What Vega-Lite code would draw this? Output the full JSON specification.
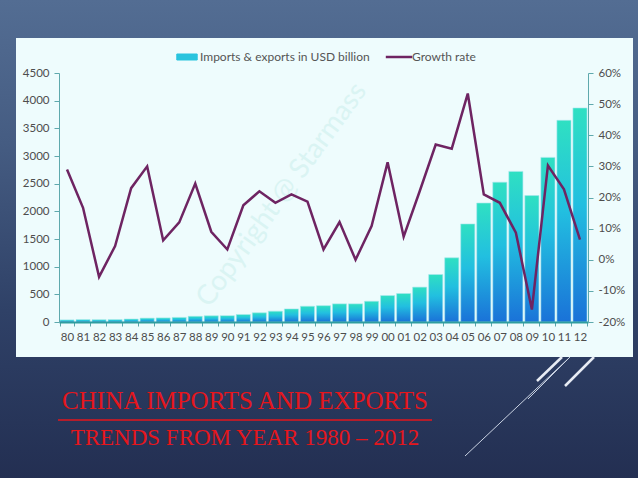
{
  "$schema": "https://vega.github.io/schema/vega-lite/v6.json",
  "width": 529,
  "height": 249,
  "autosize": {"type": "none"},
  "padding": {"left": 59, "top": 73, "right": 50, "bottom": 156},
  "background": "#34476c",
  "config": {"view": {"stroke": null}, "font": "Lato"},
  "title": {
    "text": "CHINA IMPORTS AND EXPORTS",
    "subtitle": "TRENDS FROM YEAR 1980 – 2012",
    "orient": "bottom",
    "anchor": "start",
    "frame": "group",
    "align": "center",
    "dx": 186,
    "offset": -89,
    "font": "Liberation Serif",
    "fontSize": 25,
    "fontWeight": "normal",
    "color": "#e5161c",
    "subtitleFont": "Liberation Serif",
    "subtitleFontSize": 23,
    "subtitleColor": "#e5161c",
    "subtitlePadding": 13
  },
  "datasets": {
    "trade": [
      {"year": "80", "trade": 38, "growth": 29},
      {"year": "81", "trade": 44, "growth": 16.7},
      {"year": "82", "trade": 42, "growth": -5.5},
      {"year": "83", "trade": 44, "growth": 4.4},
      {"year": "84", "trade": 54, "growth": 23},
      {"year": "85", "trade": 70, "growth": 30},
      {"year": "86", "trade": 74, "growth": 6.2},
      {"year": "87", "trade": 83, "growth": 12},
      {"year": "88", "trade": 103, "growth": 24.5},
      {"year": "89", "trade": 112, "growth": 9},
      {"year": "90", "trade": 115, "growth": 3.3},
      {"year": "91", "trade": 136, "growth": 17.5},
      {"year": "92", "trade": 166, "growth": 22},
      {"year": "93", "trade": 196, "growth": 18.3},
      {"year": "94", "trade": 237, "growth": 21},
      {"year": "95", "trade": 285, "growth": 18.7},
      {"year": "96", "trade": 295, "growth": 3.3},
      {"year": "97", "trade": 328, "growth": 12.1},
      {"year": "98", "trade": 328, "growth": 0},
      {"year": "99", "trade": 375, "growth": 10.8},
      {"year": "00", "trade": 478, "growth": 31.3},
      {"year": "01", "trade": 515, "growth": 7.4},
      {"year": "02", "trade": 630, "growth": 22},
      {"year": "03", "trade": 858, "growth": 37},
      {"year": "04", "trade": 1160, "growth": 35.7},
      {"year": "05", "trade": 1772, "growth": 53.4},
      {"year": "06", "trade": 2150, "growth": 21},
      {"year": "07", "trade": 2527, "growth": 18.3},
      {"year": "08", "trade": 2722, "growth": 8.7},
      {"year": "09", "trade": 2285, "growth": -16},
      {"year": "10", "trade": 2975, "growth": 30.3},
      {"year": "11", "trade": 3645, "growth": 22.6},
      {"year": "12", "trade": 3868, "growth": 6.5}
    ]
  },
  "layer": [
    {
      "data": {"values": [{}]},
      "mark": {"type": "rect", "fill": {"gradient": "linear", "x1": 0, "y1": 0, "x2": 0, "y2": 1, "stops": [{"offset": 0, "color": "#536d93"}, {"offset": 0.3, "color": "#455c82"}, {"offset": 0.65, "color": "#2f4167"}, {"offset": 1, "color": "#232f52"}]}},
      "encoding": {"x": {"value": -59}, "x2": {"value": 579}, "y": {"value": -73}, "y2": {"value": 405}}
    },
    {
      "data": {"values": [{}]},
      "mark": {"type": "rect", "fill": "#eefcfd"},
      "encoding": {"x": {"value": -43}, "x2": {"value": 574}, "y": {"value": -35}, "y2": {"value": 284}}
    },
    {
      "data": {"values": [{}]},
      "mark": {"type": "text", "text": "Copyright @ Starmass", "angle": -54, "fontSize": 28, "color": "#daf4f3", "align": "center", "baseline": "middle"},
      "encoding": {"x": {"value": 223}, "y": {"value": 122}}
    },
    {
      "data": {"name": "trade"},
      "mark": {"type": "bar", "fill": {"gradient": "linear", "x1": 0, "y1": 0, "x2": 0, "y2": 1, "stops": [{"offset": 0, "color": "#2fe0c2"}, {"offset": 0.45, "color": "#22bfe0"}, {"offset": 1, "color": "#1a72d8"}]}, "stroke": "#a8e6ee", "strokeWidth": 0.6},
      "encoding": {
        "x": {"field": "year", "type": "ordinal", "sort": null, "scale": {"paddingInner": 0.12, "paddingOuter": 0.06},
          "axis": {"zindex": 1, "title": null, "labelAngle": 0, "labelFont": "Lato", "labelFontSize": 11.5, "labelColor": "#4d4d4d", "labelOverlap": false, "tickBand": "extent", "tickColor": "#5aa5aa", "tickSize": 4, "labelPadding": 5, "domainColor": "#2f9d9f", "domainWidth": 2}},
        "y": {"field": "trade", "type": "quantitative", "scale": {"domain": [0, 4500]},
          "axis": {"zindex": 1, "title": null, "format": "d", "values": [0, 500, 1000, 1500, 2000, 2500, 3000, 3500, 4000, 4500], "grid": false, "labelFont": "Lato", "labelFontSize": 11.5, "labelColor": "#4d4d4d", "domainColor": "#5fa9ad", "tickColor": "#5fa9ad", "tickSize": 5, "labelPadding": 5}}
      }
    },
    {
      "data": {"name": "trade"},
      "mark": {"type": "line", "strokeWidth": 2.5},
      "encoding": {
        "x": {"field": "year", "type": "ordinal", "sort": null},
        "y": {"field": "growth", "type": "quantitative", "scale": {"domain": [-20, 60]},
          "axis": {"zindex": 1, "orient": "right", "title": null, "values": [-20, -10, 0, 10, 20, 30, 40, 50, 60], "labelExpr": "datum.value + '%'", "grid": false, "labelFont": "Lato", "labelFontSize": 11.5, "labelColor": "#4d4d4d", "domainColor": "#5fa9ad", "tickColor": "#5fa9ad", "tickSize": 5, "labelPadding": 5}},
        "color": {"datum": "Growth rate", "type": "nominal",
          "scale": {"domain": ["Imports & exports in USD billion", "Growth rate"], "range": ["#29c4de", "#6e2462"]},
          "legend": {"title": null, "orient": "none", "legendX": 122, "legendY": -22, "direction": "horizontal", "labelFont": "Lato", "labelFontSize": 12, "labelColor": "#555555", "labelLimit": 300, "symbolSize": 576, "columnPadding": 10, "labelOffset": 7,
            "encode": {"symbols": {"update": {
              "shape": {"signal": "datum.value === 'Growth rate' ? 'M-1.1,0H1.1' : 'M-0.85,-0.25H0.85V0.25H-0.85Z'"},
              "fill": {"signal": "datum.value === 'Growth rate' ? 'transparent' : '#29c4de'"},
              "stroke": {"signal": "datum.value === 'Growth rate' ? '#7a2a68' : '#1a8fb8'"},
              "strokeWidth": {"signal": "datum.value === 'Growth rate' ? 2.5 : 1"}
            }}}}
        }
      }
    },
    {
      "data": {"values": [{}]},
      "mark": {"type": "rule", "color": "#e5161c", "strokeWidth": 1.5},
      "encoding": {"x": {"value": -1}, "x2": {"value": 373}, "y": {"value": 347}}
    },
    {
      "data": {"values": [{}]},
      "mark": {"type": "rule", "color": "#c9d2e2", "strokeWidth": 1},
      "encoding": {"x": {"value": 406}, "y": {"value": 383}, "x2": {"value": 511}, "y2": {"value": 284}}
    },
    {
      "data": {"values": [{}]},
      "mark": {"type": "rule", "color": "#c9d2e2", "strokeWidth": 1},
      "encoding": {"x": {"value": 469}, "y": {"value": 326}, "x2": {"value": 511}, "y2": {"value": 284}}
    },
    {
      "data": {"values": [{}]},
      "mark": {"type": "rule", "color": "#e8ecf4", "strokeWidth": 2.5},
      "encoding": {"x": {"value": 478}, "y": {"value": 308}, "x2": {"value": 503}, "y2": {"value": 284}}
    },
    {
      "data": {"values": [{}]},
      "mark": {"type": "rule", "color": "#e8ecf4", "strokeWidth": 2.5},
      "encoding": {"x": {"value": 506}, "y": {"value": 313}, "x2": {"value": 535}, "y2": {"value": 284}}
    }
  ],
  "resolve": {"scale": {"y": "independent"}}
}
